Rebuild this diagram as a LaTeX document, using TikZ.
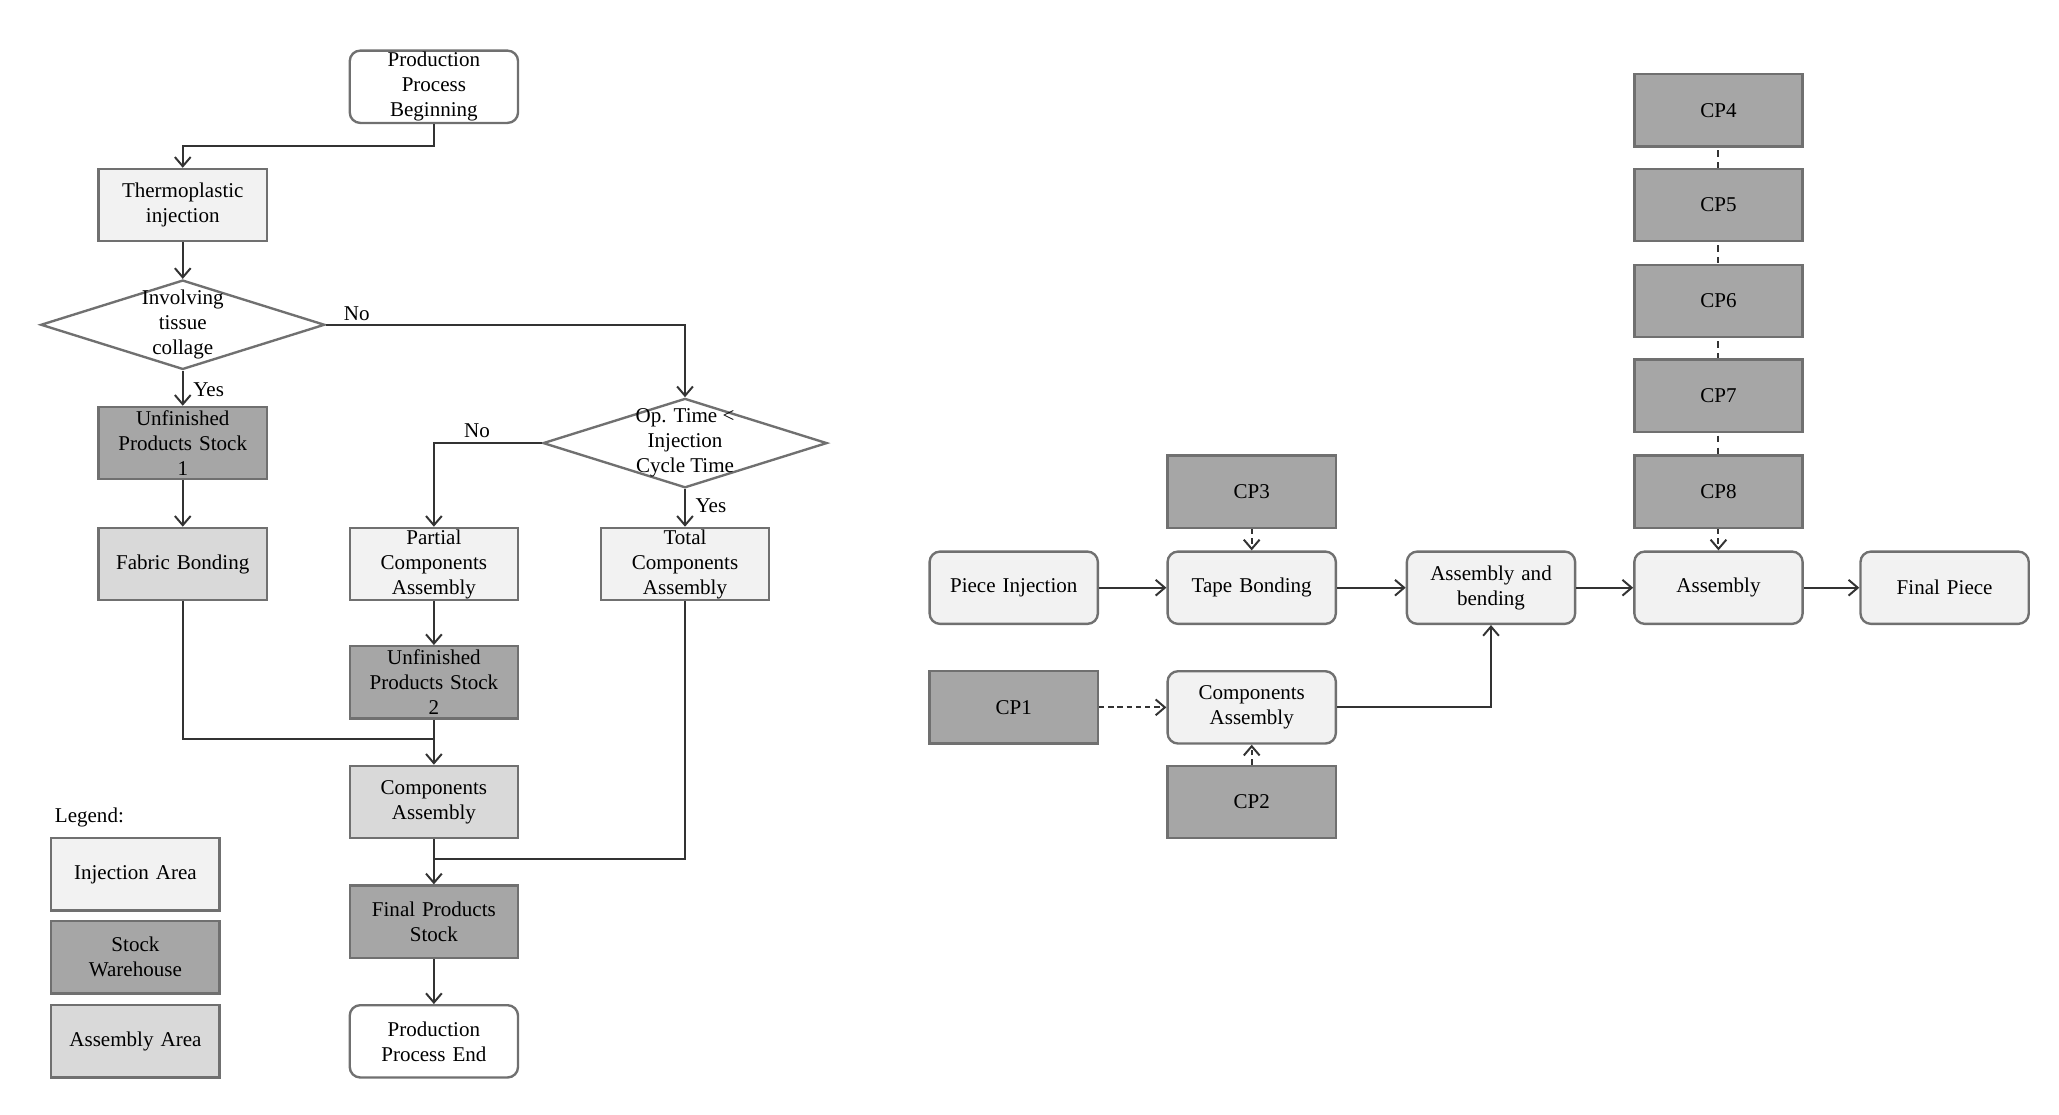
\documentclass[tikz,border=0pt]{standalone}
\usepackage{fontspec}
\setmainfont{Liberation Serif}
\usetikzlibrary{arrows.meta,shapes.geometric}
\definecolor{inj}{HTML}{F2F2F2}
\definecolor{stk}{HTML}{A6A6A6}
\definecolor{asm}{HTML}{D9D9D9}
\definecolor{brd}{HTML}{707070}
\begin{document}
\begin{tikzpicture}[x=1pt,y=-1pt,
 every node/.style={font=\fontsize{16}{19}\selectfont},
 box/.style={draw=brd,line width=1.8pt,minimum width=128pt,minimum height=55pt,align=center,inner sep=1pt,text width=124pt},
 rbox/.style={box,rounded corners=8pt},
 wb/.style={rbox,fill=white},
 ib/.style={box,fill=inj},
 rib/.style={rbox,fill=inj},
 sb/.style={box,fill=stk},
 ab/.style={box,fill=asm},
 dia/.style={diamond,draw=brd,line width=1.8pt,fill=white,aspect=3.2,inner sep=-9pt,minimum width=216pt,minimum height=68pt,align=center},
 ar/.style={draw=black!80,line width=1.5pt,-{Straight Barb[length=7pt,width=12pt]}},
 ln/.style={draw=black!80,line width=1.5pt},
 dar/.style={ar,dashed,dash pattern=on 4pt off 3pt}]
\useasboundingbox (0,0) rectangle (1566,848);
% left
\node[wb] (beg) at (330,66) {Production\\Process\\Beginning};
\node[ib] (th) at (139,156) {Thermoplastic\\injection};
\node[dia] (d1) at (139,247) {Involving\\tissue\\collage};
\node[sb] (u1) at (139,337) {Unfinished\\Products Stock\\1};
\node[ab] (fb) at (139,429) {Fabric Bonding};
\node[dia] (d2) at (521,337) {Op. Time <\\Injection\\Cycle Time};
\node[ib] (pc) at (330,429) {Partial\\Components\\Assembly};
\node[ib] (tc) at (521,429) {Total\\Components\\Assembly};
\node[sb] (u2) at (330,519) {Unfinished\\Products Stock\\2};
\node[ab] (ca) at (330,610) {Components\\Assembly};
\node[sb] (fs) at (330,701) {Final Products\\Stock};
\node[wb] (en) at (330,792) {Production\\Process End};
\node (lg) at (68,622) {Legend:};
\node[ib] (l1) at (103,665) {Injection Area};
\node[sb] (l2) at (103,728) {Stock\\Warehouse};
\node[ab] (l3) at (103,792) {Assembly Area};
\draw[ar] (beg.south) |- (235,111) -| (th.north);
\draw[ar] (th) -- (d1);
\draw[ar] (d1.east) -| (d2.north) node[pos=0.02,above right,inner sep=2pt] {No};
\draw[ar] (d1) -- (u1) node[pos=0.55,right=4pt] {Yes};
\draw[ar] (u1) -- (fb);
\draw[ar] (d2.west) -| (pc.north) node[pos=0.3,above,inner sep=3pt] {No};
\draw[ar] (d2) -- (tc) node[pos=0.45,right=4pt] {Yes};
\draw[ar] (pc) -- (u2);
\draw[ar] (u2) -- (ca);
\coordinate (j1) at (330,562);
\draw[ln] (fb.south) |- (j1);
\coordinate (j2) at (330,653);
\draw[ln] (tc.south) |- (j2);
\draw[ar] (ca) -- (fs);
\draw[ar] (fs) -- (en);
% right
\node[rib] (pi) at (771,447) {Piece Injection};
\node[rib] (tb) at (952,447) {Tape Bonding};
\node[rib] (ab2) at (1134,447) {Assembly and\\bending};
\node[rib] (as) at (1307,447) {Assembly};
\node[rib] (fp) at (1479,447) {Final Piece};
\node[sb] (cp3) at (952,374) {CP3};
\node[sb] (cp4) at (1307,84) {CP4};
\node[sb] (cp5) at (1307,156) {CP5};
\node[sb] (cp6) at (1307,229) {CP6};
\node[sb] (cp7) at (1307,301) {CP7};
\node[sb] (cp8) at (1307,374) {CP8};
\node[sb] (cp1) at (771,538) {CP1};
\node[rib] (cas) at (952,538) {Components\\Assembly};
\node[sb] (cp2) at (952,610) {CP2};
\draw[ar] (pi) -- (tb);
\draw[ar] (tb) -- (ab2);
\draw[ar] (ab2) -- (as);
\draw[ar] (as) -- (fp);
\draw[dar] (cp3) -- (tb);
\draw[dar] (cp8) -- (as);
\draw[dar] (cp1) -- (cas);
\draw[dar] (cp2) -- (cas);
\draw[ar] (cas.east) -| (ab2.south);
\foreach \a/\b in {cp4/cp5,cp5/cp6,cp6/cp7,cp7/cp8}
 \draw[ln,dash pattern=on 5pt off 4pt,dash phase=-2pt] (\a) -- (\b);
\end{tikzpicture}
\end{document}
